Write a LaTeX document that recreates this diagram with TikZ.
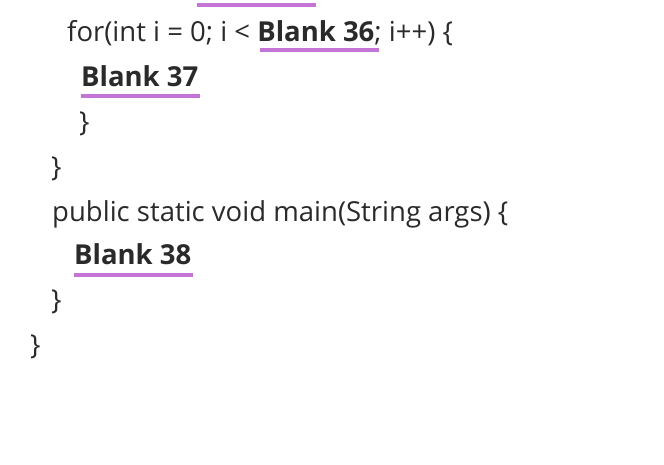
\documentclass[tikz,border=0pt]{standalone}
\usepackage{fontspec}
\setmainfont{Open Sans}
\definecolor{ul}{HTML}{C474D4}
\definecolor{tx}{HTML}{2A2A2A}
\begin{document}
\begin{tikzpicture}[x=1pt,y=-1pt,
  code/.style={anchor=base west,inner sep=0pt,text=tx,font=\fontsize{27.5}{32}\selectfont},
  uline/.style={draw=ul,line width=3.5pt}]
\useasboundingbox (0,0) rectangle (664,464);
\draw[uline] (197,5) coordinate (u0a) -- (316,5) coordinate (u0b);
\node[code] (l1) at (67,41) {for(int i = 0; i < \textbf{Blank 36}; i++) \{};
\draw[uline] (260,50) coordinate (u1a) -- (379,50) coordinate (u1b);
\node[code] (l2) at (81,86) {\textbf{Blank 37}};
\draw[uline] (81,96) coordinate (u2a) -- (200,96) coordinate (u2b);
\node[code] (l3) at (79,131) {\}};
\node[code] (l4) at (51,176) {\}};
\node[code] (l5) at (52,221) {public static void main(String args) \{};
\node[code] (l6) at (74,264) {\textbf{Blank 38}};
\draw[uline] (74,275) coordinate (u3a) -- (193,275) coordinate (u3b);
\node[code] (l7) at (51,309) {\}};
\node[code] (l8) at (30,354) {\}};
\end{tikzpicture}
\end{document}
